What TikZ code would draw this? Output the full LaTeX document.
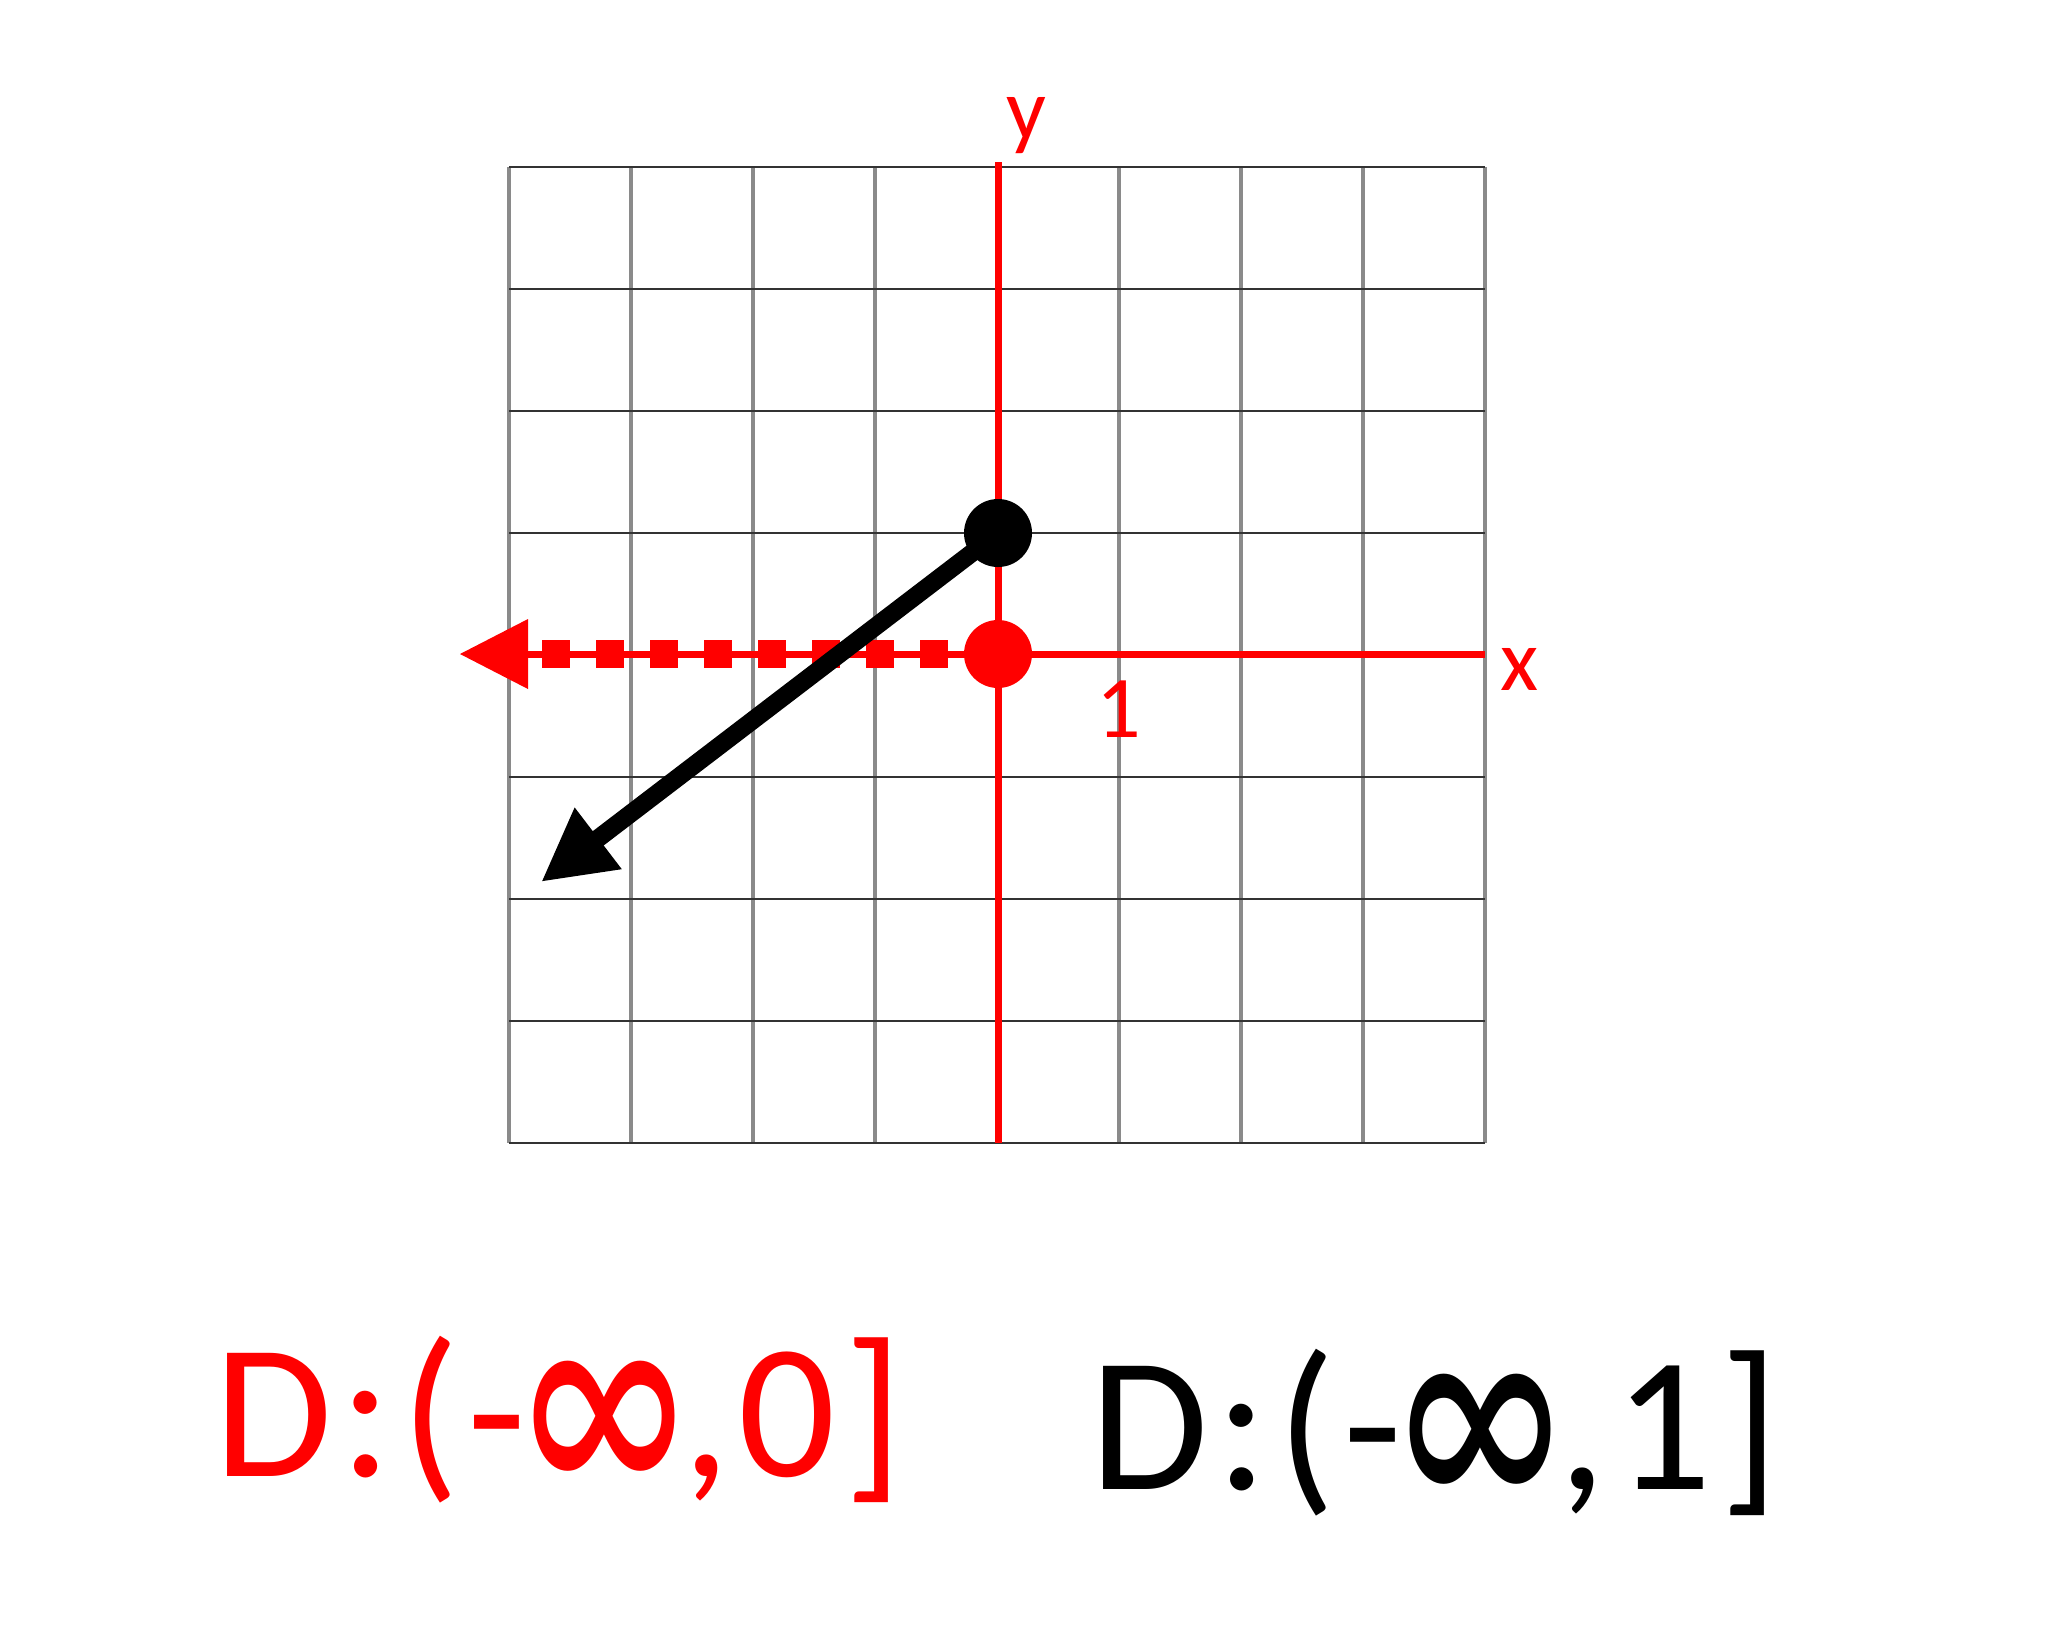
\documentclass[tikz,border=0pt]{standalone}
\usepackage{fontspec}
\usepackage{graphicx}
\setmainfont{Carlito}
\usetikzlibrary{arrows.meta}
\definecolor{gridv}{HTML}{8A8A8A}
\definecolor{gridh}{HTML}{333333}
\definecolor{pureRed}{HTML}{FF0000}
\newcommand{\tallinf}{\raisebox{-0.19em}{\scalebox{0.95}[1.8]{∞}}}
\tikzset{
  vline/.style={draw=gridv, line width=1.8pt},
  hline/.style={draw=gridh, line width=1.3pt},
  axisline/.style={draw=pureRed, line width=3.5pt},
  lbl/.style={inner sep=0pt, anchor=base, text=pureRed, font=\fontsize{44}{50}\selectfont},
  domtext/.style={inner sep=0pt, anchor=base west, font=\fontsize{96}{110}\selectfont\addfontfeature{LetterSpace=4.5}}
}
\begin{document}
\begin{tikzpicture}[x=0.5pt,y=-0.5pt]
\useasboundingbox (0,0) rectangle (2048,1645);
\fill[white] (0,0) rectangle (2048,1645);
% grid
\foreach \i in {0,...,8} {
  \draw[vline] ({509+122*\i},167) -- ({509+122*\i},1143);
}
\foreach \j in {0,...,8} {
  \draw[hline] (509,{167+122*\j}) -- (1485,{167+122*\j});
}
% axes
\coordinate (O) at (998,654);
\coordinate (P) at (998,533);
\coordinate (T) at (541,882);
\coordinate (XL) at (528,654);
\coordinate (XR) at (1485,654);
\coordinate (YT) at (998,162);
\coordinate (YB) at (998,1143);
\draw[axisline] (XL) -- (XR);
\draw[axisline] (YT) -- (YB);
% red dashed ray
\coordinate (DS) at (947.5,654);
\draw[draw=pureRed, line width=14pt, dash pattern=on 14pt off 13pt] (DS) -- (XL);
\fill[pureRed] (460,654) -- (528,619) -- (528,689) -- cycle;
\fill[pureRed] (O) circle[radius=17pt];
% black ray
\draw[line width=9pt, -{Triangle[length=36pt,width=36pt]}] (P) -- (T);
\fill[black] (P) circle[radius=17pt];
% labels
\node[lbl] (ylab) at (1026,139) {y};
\node[lbl] (xlab) at (1520,690) {x};
\node[lbl] (onelab) at (1119,737) {1};
\node[domtext, text=pureRed] (d0) at (214,1476) {D:(-\tallinf,0]};
\node[domtext, text=black] (d1) at (1090,1489) {D:(-\tallinf,1]};
\end{tikzpicture}
\end{document}
